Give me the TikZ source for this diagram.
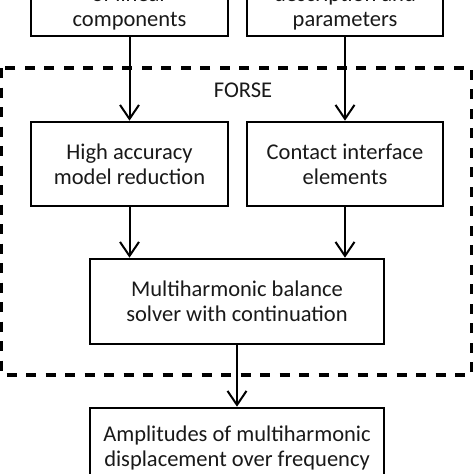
\documentclass[tikz,border=0pt]{standalone}
\usepackage{fontspec}
\setmainfont{Carlito}
\usetikzlibrary{arrows.meta}
\begin{document}
\begin{tikzpicture}[x=1pt,y=-1pt,
  box/.style={draw=black, line width=2.6pt, align=center, inner sep=0pt,
    font=\fontsize{22.5}{25}\selectfont, text=black!90},
  arr/.style={line width=2pt, -{Straight Barb[length=14pt,width=19pt,line width=2pt]}},
  dashframe/.style={line width=3.3pt, dash pattern=on 10pt off 9.5pt}]
\useasboundingbox (0,0) rectangle (474,474);
\clip (0,0) rectangle (474,474);
% top (cropped) boxes
\node[box, minimum width=197pt, minimum height=55pt] (tl) at (129.5,8.5) {of linear\\components};
\node[box, minimum width=196pt, minimum height=55pt] (tr) at (345,8.5) {description and\\parameters};
% FORSE frame
\draw[dashframe] (1.7,68) rectangle (471.7,375);
\node[font=\fontsize{22.5}{25}\selectfont, text=black!90] (forse) at (243,90) {FORSE};
% inner boxes
\node[box, minimum width=197pt, minimum height=84pt] (ml) at (129.5,164) {High accuracy\\model reduction};
\node[box, minimum width=196pt, minimum height=84pt] (mr) at (345,164) {Contact interface\\elements};
\node[box, minimum width=294pt, minimum height=85pt] (mh) at (237,301.5) {Multiharmonic balance\\solver with continuation};
% output box (cropped)
\node[box, minimum width=294pt, minimum height=79pt] (out) at (237,447.5) {Amplitudes of multiharmonic\\displacement over frequency};
% connectors
\draw[arr] (tl.south) -- (ml.north);
\draw[arr] (tr.south) -- (mr.north);
\draw[arr] (ml.south) -- (ml.south |- mh.north);
\draw[arr] (mr.south) -- (mr.south |- mh.north);
\draw[arr] (mh.south) -- (out.north);
\end{tikzpicture}
\end{document}
